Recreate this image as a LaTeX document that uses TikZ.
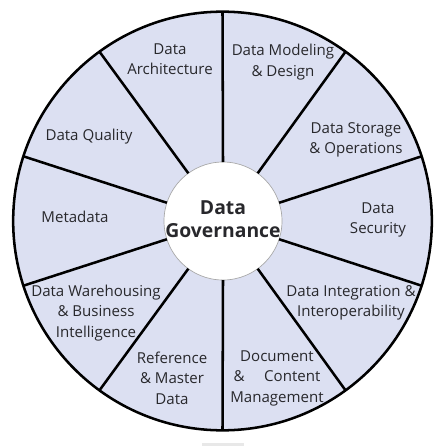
\documentclass[tikz,border=0pt]{standalone}
\usepackage{fontspec}
\setmainfont{Open Sans}
\definecolor{wedge}{RGB}{220,224,242}
\definecolor{ink}{RGB}{40,40,44}
\begin{document}
\begin{tikzpicture}[x=0.75pt,y=-0.75pt,
  lbl/.style={text=ink,align=center,font=\fontsize{11.3}{15.4}\selectfont,inner sep=0pt},
  spoke/.style={line width=1.9pt,black},
]
\useasboundingbox (0,0) rectangle (445,446);
\fill[gray!18] (202,443) rectangle (244,446);
\node[circle,draw=black,line width=1.9pt,fill=wedge,minimum size=314pt,inner sep=0pt,outer sep=0pt] (outer) at (222.5,221) {};
\node[circle,draw=gray!70,line width=0.5pt,fill=white,minimum size=88.5pt,inner sep=0pt,outer sep=0pt] (hub) at (223,221) {};
\foreach \a in {90,126,162,198,234,270,306,342,18,54}{
  \draw[spoke] (hub.\a) -- (outer.\a);
}
\node[text=ink,align=center,inner sep=0pt,font=\fontsize{14.5}{17.5}\selectfont\bfseries] (gov) at (223,219) {Data\\Governance};
\node[lbl] (arch) at (170,59) {Data\\Architecture};
\node[lbl] (model) at (283,62) {Data Modeling\\\& Design};
\node[lbl] (store) at (356,140) {Data Storage\\\& Operations};
\node[lbl] (sec) at (378,220) {Data\\Security};
\node[lbl] (integ) at (351,303) {Data Integration \&\\Interoperability};
\node[lbl] (doc) at (277,378) {Document\\\&\hspace{1.3em}Content\\Management};
\node[lbl] (ref) at (172,378) {Reference\\\& Master\\Data};
\node[lbl] (ware) at (96,313) {Data Warehousing\\\& Business\\Intelligence};
\node[lbl] (qual) at (89,137) {Data Quality};
\node[lbl] (meta) at (75,217) {Metadata};
\end{tikzpicture}
\end{document}
